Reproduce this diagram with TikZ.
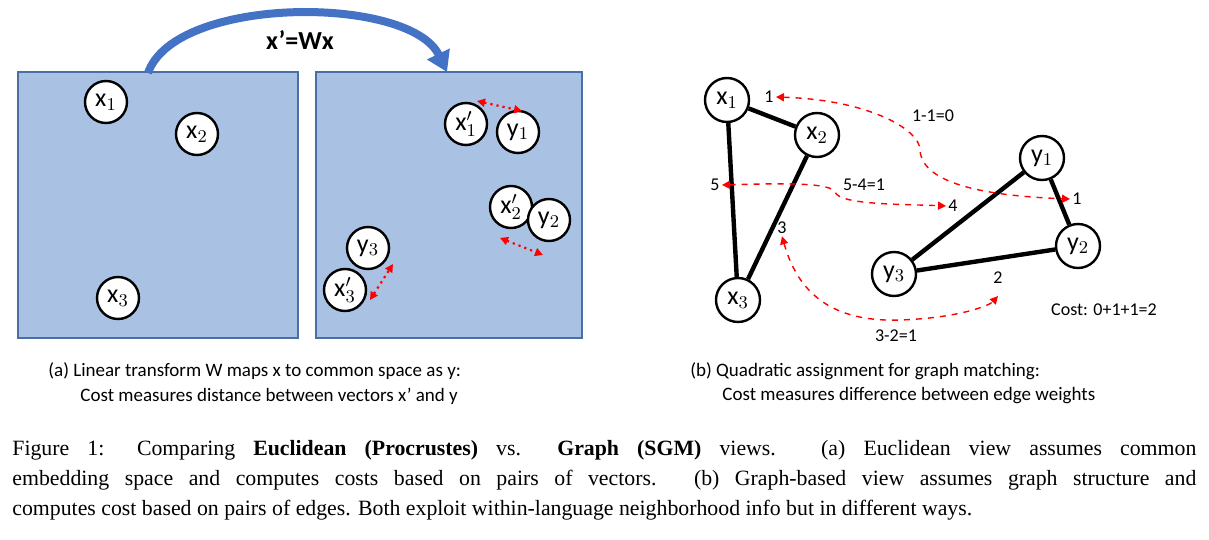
\documentclass[tikz,border=0pt]{standalone}
\usepackage{fontspec}
\setmainfont{Liberation Serif}
\newfontfamily\calfnt{Carlito}
\usetikzlibrary{arrows.meta}
\definecolor{boxfill}{HTML}{A9C1E2}
\definecolor{boxline}{HTML}{4A6FA5}
\definecolor{arcblue}{HTML}{4472C4}
\tikzset{
 vtx/.style={circle,draw=black,line width=1.2pt,fill=white,minimum size=21pt,inner sep=0pt,font=\calfnt\fontsize{13}{13}\selectfont},
 gvtx/.style={vtx,minimum size=22pt},
 panel/.style={draw=boxline,fill=boxfill,line width=0.6pt},
 reddot/.style={red,dotted,line width=1.1pt,{Triangle[length=4pt,width=4pt]}-{Triangle[length=4pt,width=4pt]}},
 reddash/.style={red,dashed,line width=0.7pt,{Triangle[length=4pt,width=4pt]}-{Triangle[length=4pt,width=4pt]}},
 edge/.style={line width=2.2pt},
 lbl/.style={font=\calfnt\fontsize{9}{9}\selectfont,inner sep=1pt},
 captxt/.style={font=\calfnt\fontsize{9.5}{12.5}\selectfont,anchor=west,inner sep=0pt}
}
\begin{document}
\begin{tikzpicture}[x=0.5pt,y=-0.5pt]
\useasboundingbox (0,0) rectangle (1209,540);
% panels
\draw[panel] (18,72) rectangle (298,338);
\draw[panel] (316,72) rectangle (582,338);
\coordinate (as) at (148,73);
\coordinate (ae) at (447,72);
\draw[arcblue,line width=4pt,-{Triangle[length=10pt,width=12pt]}] (as) .. controls (175,-5) and (410,-5) .. (ae);
\node[font=\calfnt\fontsize{13}{13}\selectfont\bfseries] (wx) at (300,40) {x’=Wx};
% left panel nodes
\node[vtx] (lx1) at (106,102) {x$_1$};
\node[vtx] (lx2) at (197,134) {x$_2$};
\node[vtx] (lx3) at (118,298) {x$_3$};
% right panel nodes
\node[vtx] (rx1) at (466,124) {x$'_1$};
\node[vtx] (ry1) at (518,132) {y$_1$};
\node[vtx] (rx2) at (511,207) {x$'_2$};
\node[vtx] (ry2) at (549,220) {y$_2$};
\node[vtx] (ry3) at (368,248) {y$_3$};
\node[vtx] (rx3) at (345,290) {x$'_3$};
\coordinate (d1a) at (477,101); \coordinate (d1b) at (522,111);
\coordinate (d2a) at (500,238); \coordinate (d2b) at (543,255);
\coordinate (d3a) at (370,300); \coordinate (d3b) at (393,264);
\draw[reddot] (d1a) -- (d1b);
\draw[reddot] (d2a) -- (d2b);
\draw[reddot] (d3a) -- (d3b);
% captions
\node[captxt] (ca1) at (48,371) {(a) Linear transform W maps x to common space as y:};
\node[captxt] (ca2) at (80,396) {Cost measures distance between vectors x’ and y};
\node[captxt] (cb1) at (690,371) {(b) Quadratic assignment for graph matching:};
\node[captxt] (cb2) at (722,396) {Cost measures difference between edge weights};
% graph
\node[gvtx] (x1) at (727,100) {x$_1$};
\node[gvtx] (x2) at (817,135) {x$_2$};
\node[gvtx] (x3) at (738,300) {x$_3$};
\node[gvtx] (y1) at (1042,158) {y$_1$};
\node[gvtx] (y2) at (1078,246) {y$_2$};
\node[gvtx] (y3) at (894,274) {y$_3$};
\draw[edge] (x1) -- (x2);
\draw[edge] (x1) -- (x3);
\draw[edge] (x2) -- (x3);
\draw[edge] (y1) -- (y2);
\draw[edge] (y1) -- (y3);
\draw[edge] (y2) -- (y3);
\node[lbl] (w1) at (769,97) {1};
\node[lbl] (w5) at (715,185) {5};
\node[lbl] (w3) at (782,228) {3};
\node[lbl] (w4) at (953,206) {4};
\node[lbl] (v1) at (1077,199) {1};
\node[lbl] (v2) at (998,278) {2};
\node[lbl] (d10) at (933,116) {1-1=0};
\node[lbl] (d54) at (864,185) {5-4=1};
\node[lbl] (d32) at (896,336) {3-2=1};
\node[lbl] (cost) at (1104,310) {Cost: 0+1+1=2};
\draw[reddash] (w1.east) .. controls (870,100) and (920,130) .. (920,150) .. controls (922,185) and (990,196) .. (v1.west);
\draw[reddash] (w5.east) .. controls (790,183) and (830,183) .. (835,192) .. controls (840,205) and (900,204) .. (w4.west);
\draw[reddash] (w3.south) .. controls (800,300) and (840,322) .. (900,320) .. controls (960,318) and (990,305) .. (998,296);
% figure caption
\node[anchor=north west,inner sep=0pt,text width=592pt,align=justify,font=\fontsize{10.9}{15}\selectfont] (fig) at (12,440) {Figure 1: Comparing \textbf{Euclidean (Procrustes)} vs.\ \ \textbf{Graph (SGM)} views. (a) Euclidean view assumes common\linebreak embedding space and computes costs based on pairs of vectors. (b) Graph-based view assumes graph structure and\linebreak computes cost based on pairs of edges. Both exploit within-language neighborhood info but in different ways.};
\end{tikzpicture}
\end{document}
